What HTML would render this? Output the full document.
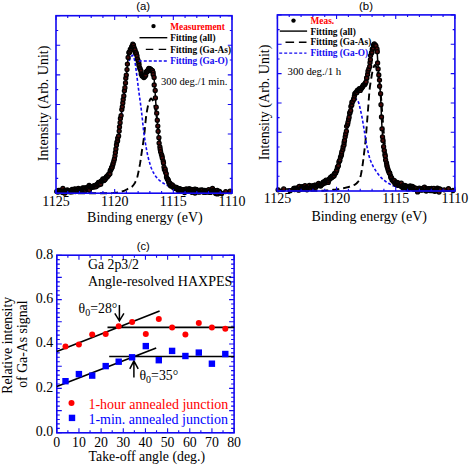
<!DOCTYPE html>
<html><head><meta charset="utf-8"><style>
html,body{margin:0;padding:0;background:#fff;}
svg{display:block;}
</style></head><body>
<svg width="471" height="465" viewBox="0 0 471 465">
<rect width="471" height="465" fill="#fff"/>
<path d="M56.0 193.2 L56.5 193.2 L57.0 193.2 L57.5 193.2 L58.0 193.2 L58.5 193.2 L59.0 193.2 L59.5 193.2 L60.0 193.2 L60.5 193.2 L61.0 193.2 L61.5 193.2 L62.0 193.2 L62.5 193.2 L63.0 193.2 L63.5 193.2 L64.0 193.2 L64.5 193.2 L65.0 193.2 L65.5 193.2 L66.0 193.2 L66.5 193.2 L67.0 193.2 L67.5 193.2 L68.0 193.2 L68.5 193.2 L69.0 193.2 L69.5 193.2 L70.0 193.2 L70.5 193.2 L71.0 193.2 L71.5 193.2 L72.0 193.2 L72.5 193.2 L73.0 193.2 L73.5 193.2 L74.0 193.2 L74.5 193.2 L75.0 193.2 L75.5 193.2 L76.0 193.2 L76.5 193.2 L77.0 193.2 L77.5 193.2 L78.0 193.2 L78.5 193.2 L79.0 193.2 L79.5 193.2 L80.0 193.2 L80.5 193.2 L81.0 193.2 L81.5 193.2 L82.0 193.2 L82.5 193.2 L83.0 193.2 L83.5 193.2 L84.0 193.2 L84.5 193.2 L85.0 193.2 L85.5 193.2 L86.0 193.2 L86.5 193.2 L87.0 193.2 L87.5 193.2 L88.0 193.2 L88.5 193.2 L89.0 193.2 L89.5 193.2 L90.0 193.2 L90.5 193.2 L91.0 193.2 L91.5 193.2 L92.0 193.2 L92.5 193.2 L93.0 193.2 L93.5 193.2 L94.0 193.2 L94.5 193.2 L95.0 193.2 L95.5 193.2 L96.0 193.2 L96.5 193.2 L97.0 193.2 L97.5 193.2 L98.0 193.2 L98.5 193.2 L99.0 193.2 L99.5 193.2 L100.0 193.2 L100.5 193.2 L101.0 193.2 L101.5 193.2 L102.0 193.2 L102.5 193.2 L103.0 193.2 L103.5 193.2 L104.0 193.2 L104.5 193.2 L105.0 193.2 L105.5 193.2 L106.0 193.2 L106.5 193.2 L107.0 193.2 L107.5 193.2 L108.0 193.2 L108.5 193.2 L109.0 193.2 L109.5 193.2 L110.0 193.2 L110.5 193.2 L111.0 193.2 L111.5 193.2 L112.0 193.1 L112.5 193.1 L113.0 193.1 L113.5 193.0 L114.0 193.0 L114.5 192.9 L115.0 192.9 L115.5 192.8 L116.0 192.7 L116.5 192.7 L117.0 192.6 L117.5 192.5 L118.0 192.4 L118.5 192.4 L119.0 192.3 L119.5 192.2 L120.0 192.1 L120.5 192.0 L121.0 191.9 L121.5 191.7 L122.0 191.5 L122.5 191.4 L123.0 191.2 L123.5 191.0 L124.0 190.8 L124.5 190.6 L125.0 190.4 L125.5 190.1 L126.0 189.9 L126.5 189.6 L127.0 189.4 L127.5 189.1 L128.0 188.8 L128.5 188.6 L129.0 188.4 L129.5 188.2 L130.0 188.0 L130.5 187.7 L131.0 187.5 L131.5 187.1 L132.0 186.7 L132.5 186.2 L133.0 185.7 L133.5 185.0 L134.0 184.3 L134.5 183.5 L135.0 182.7 L135.5 181.7 L136.0 180.7 L136.5 179.5 L137.0 178.0 L137.5 176.2 L138.0 174.1 L138.5 171.7 L139.0 169.2 L139.5 166.6 L140.0 163.9 L140.5 160.8 L141.0 157.3 L141.5 153.8 L142.0 150.3 L142.5 147.1 L143.0 144.0 L143.5 140.6 L144.0 137.0 L144.5 132.6 L145.0 127.5 L145.5 122.2 L146.0 117.4 L146.5 113.7 L147.0 110.8 L147.5 108.1 L148.0 105.7 L148.5 103.6 L149.0 102.0 L149.5 100.8 L150.0 99.8 L150.5 99.0 L151.0 98.6 L151.5 98.7 L152.0 99.3 L152.5 100.0 L153.0 100.9 L153.5 102.2 L154.0 103.9 L154.5 105.9 L155.0 108.0 L155.5 110.3 L156.0 112.9 L156.5 115.7 L157.0 118.8 L157.5 122.0 L158.0 125.5 L158.5 129.5 L159.0 133.6 L159.5 137.7 L160.0 141.5 L160.5 145.3 L161.0 149.1 L161.5 152.6 L162.0 155.9 L162.5 159.0 L163.0 162.0 L163.5 165.0 L164.0 168.5 L164.5 172.3 L165.0 175.7 L165.5 178.0 L166.0 179.5 L166.5 180.8 L167.0 181.9 L167.5 183.0 L168.0 183.9 L168.5 184.7 L169.0 185.4 L169.5 186.0 L170.0 186.5 L170.5 187.0 L171.0 187.4 L171.5 187.8 L172.0 188.1 L172.5 188.4 L173.0 188.7 L173.5 189.0 L174.0 189.3 L174.5 189.5 L175.0 189.7 L175.5 189.9 L176.0 190.1 L176.5 190.3 L177.0 190.5 L177.5 190.7 L178.0 190.9 L178.5 191.1 L179.0 191.3 L179.5 191.4 L180.0 191.6 L180.5 191.8 L181.0 192.0 L181.5 192.1 L182.0 192.2 L182.5 192.4 L183.0 192.5 L183.5 192.6 L184.0 192.7 L184.5 192.7 L185.0 192.8 L185.5 192.8 L186.0 192.8 L186.5 192.8 L187.0 192.8 L187.5 192.8 L188.0 192.9 L188.5 192.9 L189.0 192.9 L189.5 192.9 L190.0 192.9 L190.5 192.9 L191.0 192.9 L191.5 192.9 L192.0 192.9 L192.5 192.9 L193.0 192.9 L193.5 192.9 L194.0 193.0 L194.5 193.0 L195.0 193.0 L195.5 193.0 L196.0 193.0 L196.5 193.0 L197.0 193.0 L197.5 193.0 L198.0 193.0 L198.5 193.0 L199.0 193.0 L199.5 193.0 L200.0 193.0 L200.5 193.0 L201.0 193.0 L201.5 193.1 L202.0 193.1 L202.5 193.1 L203.0 193.1 L203.5 193.1 L204.0 193.1 L204.5 193.1 L205.0 193.1 L205.5 193.1 L206.0 193.1 L206.5 193.1 L207.0 193.1 L207.5 193.1 L208.0 193.1 L208.5 193.1 L209.0 193.1 L209.5 193.1 L210.0 193.1 L210.5 193.1 L211.0 193.1 L211.5 193.1 L212.0 193.1 L212.5 193.1 L213.0 193.2 L213.5 193.2 L214.0 193.2 L214.5 193.2 L215.0 193.2 L215.5 193.2 L216.0 193.2 L216.5 193.2 L217.0 193.2 L217.5 193.2 L218.0 193.2 L218.5 193.2 L219.0 193.2 L219.5 193.2 L220.0 193.2 L220.5 193.2 L221.0 193.2 L221.5 193.2 L222.0 193.2 L222.5 193.2 L223.0 193.2 L223.5 193.2 L224.0 193.2 L224.5 193.2 L225.0 193.2 L225.5 193.2 L226.0 193.2 L226.5 193.2 L227.0 193.2 L227.5 193.2 L228.0 193.2 L228.5 193.2 L229.0 193.2 L229.5 193.2 L230.0 193.2 L230.5 193.2 L231.0 193.2 L231.5 193.2 L232.0 193.2" fill="none" stroke="#000" stroke-width="1.9" stroke-dasharray="7 4"/>
<path d="M56.0 191.6 L56.5 191.6 L57.0 191.6 L57.5 191.6 L58.0 191.6 L58.5 191.6 L59.0 191.6 L59.5 191.6 L60.0 191.6 L60.5 191.6 L61.0 191.6 L61.5 191.6 L62.0 191.6 L62.5 191.6 L63.0 191.5 L63.5 191.5 L64.0 191.5 L64.5 191.5 L65.0 191.5 L65.5 191.5 L66.0 191.5 L66.5 191.5 L67.0 191.5 L67.5 191.5 L68.0 191.4 L68.5 191.4 L69.0 191.4 L69.5 191.4 L70.0 191.4 L70.5 191.4 L71.0 191.4 L71.5 191.3 L72.0 191.3 L72.5 191.3 L73.0 191.3 L73.5 191.3 L74.0 191.3 L74.5 191.2 L75.0 191.2 L75.5 191.2 L76.0 191.2 L76.5 191.2 L77.0 191.1 L77.5 191.1 L78.0 191.1 L78.5 191.1 L79.0 191.0 L79.5 191.0 L80.0 191.0 L80.5 191.0 L81.0 190.9 L81.5 190.9 L82.0 190.9 L82.5 190.8 L83.0 190.7 L83.5 190.7 L84.0 190.6 L84.5 190.5 L85.0 190.5 L85.5 190.4 L86.0 190.3 L86.5 190.2 L87.0 190.1 L87.5 190.0 L88.0 189.8 L88.5 189.7 L89.0 189.6 L89.5 189.5 L90.0 189.3 L90.5 189.2 L91.0 189.0 L91.5 188.9 L92.0 188.7 L92.5 188.5 L93.0 188.4 L93.5 188.2 L94.0 188.0 L94.5 187.8 L95.0 187.6 L95.5 187.4 L96.0 187.2 L96.5 187.0 L97.0 186.8 L97.5 186.5 L98.0 186.2 L98.5 185.8 L99.0 185.3 L99.5 184.8 L100.0 184.3 L100.5 183.8 L101.0 183.2 L101.5 182.7 L102.0 182.3 L102.5 181.9 L103.0 181.5 L103.5 181.2 L104.0 180.9 L104.5 180.5 L105.0 180.2 L105.5 179.8 L106.0 179.4 L106.5 178.9 L107.0 178.4 L107.5 177.8 L108.0 177.0 L108.5 176.0 L109.0 175.0 L109.5 174.1 L110.0 173.2 L110.5 172.3 L111.0 171.3 L111.5 170.2 L112.0 169.0 L112.5 167.7 L113.0 166.2 L113.5 164.5 L114.0 162.5 L114.5 160.0 L115.0 157.0 L115.5 153.8 L116.0 150.6 L116.5 147.4 L117.0 144.8 L117.5 142.6 L118.0 140.5 L118.5 138.1 L119.0 135.0 L119.5 130.8 L120.0 126.2 L120.5 121.8 L121.0 118.0 L121.5 114.4 L122.0 110.8 L122.5 107.2 L123.0 103.5 L123.5 99.6 L124.0 95.8 L124.5 92.0 L125.0 88.3 L125.5 84.7 L126.0 81.1 L126.5 77.5 L127.0 73.4 L127.5 69.2 L128.0 65.5 L128.5 63.2 L129.0 61.5 L129.5 60.1 L130.0 59.0 L130.5 58.0 L131.0 57.1 L131.5 56.2 L132.0 55.6 L132.5 55.3 L133.0 55.7 L133.5 56.6 L134.0 58.0 L134.5 59.7 L135.0 61.8 L135.5 65.1 L136.0 69.1 L136.5 73.2 L137.0 77.0 L137.5 80.9 L138.0 85.0 L138.5 88.9 L139.0 92.8 L139.5 96.4 L140.0 100.0 L140.5 103.6 L141.0 107.4 L141.5 111.5 L142.0 115.9 L142.5 120.6 L143.0 125.3 L143.5 129.8 L144.0 133.7 L144.5 137.3 L145.0 140.6 L145.5 143.6 L146.0 146.5 L146.5 149.3 L147.0 152.0 L147.5 154.5 L148.0 156.7 L148.5 158.7 L149.0 160.6 L149.5 162.4 L150.0 164.1 L150.5 165.7 L151.0 167.2 L151.5 168.5 L152.0 169.7 L152.5 170.8 L153.0 171.8 L153.5 172.7 L154.0 173.6 L154.5 174.4 L155.0 175.2 L155.5 176.0 L156.0 176.7 L156.5 177.3 L157.0 177.9 L157.5 178.5 L158.0 179.0 L158.5 179.5 L159.0 180.0 L159.5 180.4 L160.0 180.8 L160.5 181.2 L161.0 181.6 L161.5 182.0 L162.0 182.3 L162.5 182.7 L163.0 183.0 L163.5 183.3 L164.0 183.6 L164.5 183.9 L165.0 184.2 L165.5 184.5 L166.0 184.7 L166.5 185.0 L167.0 185.2 L167.5 185.5 L168.0 185.7 L168.5 185.9 L169.0 186.2 L169.5 186.4 L170.0 186.6 L170.5 186.8 L171.0 187.0 L171.5 187.1 L172.0 187.3 L172.5 187.5 L173.0 187.7 L173.5 187.9 L174.0 188.1 L174.5 188.2 L175.0 188.4 L175.5 188.6 L176.0 188.7 L176.5 188.8 L177.0 189.0 L177.5 189.1 L178.0 189.2 L178.5 189.3 L179.0 189.4 L179.5 189.5 L180.0 189.6 L180.5 189.7 L181.0 189.8 L181.5 189.9 L182.0 190.0 L182.5 190.1 L183.0 190.2 L183.5 190.3 L184.0 190.4 L184.5 190.4 L185.0 190.5 L185.5 190.6 L186.0 190.7 L186.5 190.8 L187.0 190.8 L187.5 190.9 L188.0 191.0 L188.5 191.0 L189.0 191.1 L189.5 191.2 L190.0 191.2 L190.5 191.3 L191.0 191.3 L191.5 191.4 L192.0 191.4 L192.5 191.4 L193.0 191.5 L193.5 191.5 L194.0 191.6 L194.5 191.6 L195.0 191.6 L195.5 191.6 L196.0 191.6 L196.5 191.7 L197.0 191.7 L197.5 191.7 L198.0 191.7 L198.5 191.7 L199.0 191.8 L199.5 191.8 L200.0 191.8 L200.5 191.8 L201.0 191.8 L201.5 191.8 L202.0 191.9 L202.5 191.9 L203.0 191.9 L203.5 191.9 L204.0 191.9 L204.5 191.9 L205.0 192.0 L205.5 192.0 L206.0 192.0 L206.5 192.0 L207.0 192.0 L207.5 192.0 L208.0 192.1 L208.5 192.1 L209.0 192.1 L209.5 192.1 L210.0 192.1 L210.5 192.1 L211.0 192.1 L211.5 192.1 L212.0 192.2 L212.5 192.2 L213.0 192.2 L213.5 192.2 L214.0 192.2 L214.5 192.2 L215.0 192.2 L215.5 192.2 L216.0 192.2 L216.5 192.3 L217.0 192.3 L217.5 192.3 L218.0 192.3 L218.5 192.3 L219.0 192.3 L219.5 192.3 L220.0 192.3 L220.5 192.3 L221.0 192.3 L221.5 192.3 L222.0 192.3 L222.5 192.3 L223.0 192.3 L223.5 192.4 L224.0 192.4 L224.5 192.4 L225.0 192.4 L225.5 192.4 L226.0 192.4 L226.5 192.4 L227.0 192.4 L227.5 192.4 L228.0 192.4 L228.5 192.4 L229.0 192.4 L229.5 192.4 L230.0 192.4 L230.5 192.4 L231.0 192.4 L231.5 192.4 L232.0 192.4" fill="none" stroke="#1208f0" stroke-width="1.6" stroke-dasharray="3 2"/>
<path d="M56.0 191.0 L56.5 191.0 L57.0 191.0 L57.5 191.0 L58.0 191.0 L58.5 191.1 L59.0 191.1 L59.5 191.1 L60.0 191.1 L60.5 191.1 L61.0 191.1 L61.5 191.1 L62.0 191.1 L62.5 191.1 L63.0 191.1 L63.5 191.1 L64.0 191.1 L64.5 191.1 L65.0 191.1 L65.5 191.1 L66.0 191.1 L66.5 191.1 L67.0 191.1 L67.5 191.1 L68.0 191.1 L68.5 191.0 L69.0 191.0 L69.5 191.0 L70.0 190.9 L70.5 190.9 L71.0 190.8 L71.5 190.8 L72.0 190.8 L72.5 190.7 L73.0 190.6 L73.5 190.6 L74.0 190.5 L74.5 190.5 L75.0 190.4 L75.5 190.3 L76.0 190.3 L76.5 190.2 L77.0 190.1 L77.5 190.0 L78.0 190.0 L78.5 189.9 L79.0 189.8 L79.5 189.8 L80.0 189.7 L80.5 189.6 L81.0 189.6 L81.5 189.5 L82.0 189.4 L82.5 189.3 L83.0 189.2 L83.5 189.1 L84.0 189.0 L84.5 188.9 L85.0 188.8 L85.5 188.7 L86.0 188.6 L86.5 188.5 L87.0 188.4 L87.5 188.2 L88.0 188.1 L88.5 188.0 L89.0 187.9 L89.5 187.8 L90.0 187.7 L90.5 187.5 L91.0 187.4 L91.5 187.3 L92.0 187.2 L92.5 187.1 L93.0 186.9 L93.5 186.8 L94.0 186.6 L94.5 186.5 L95.0 186.3 L95.5 186.1 L96.0 185.9 L96.5 185.7 L97.0 185.5 L97.5 185.2 L98.0 184.9 L98.5 184.4 L99.0 183.9 L99.5 183.4 L100.0 182.9 L100.5 182.4 L101.0 181.9 L101.5 181.4 L102.0 181.0 L102.5 180.6 L103.0 180.3 L103.5 180.0 L104.0 179.7 L104.5 179.4 L105.0 179.0 L105.5 178.6 L106.0 178.1 L106.5 177.6 L107.0 177.1 L107.5 176.4 L108.0 175.5 L108.5 174.6 L109.0 173.6 L109.5 172.7 L110.0 171.7 L110.5 170.8 L111.0 169.8 L111.5 168.7 L112.0 167.5 L112.5 166.1 L113.0 164.6 L113.5 162.8 L114.0 160.8 L114.5 158.3 L115.0 155.3 L115.5 152.1 L116.0 148.9 L116.5 145.6 L117.0 142.9 L117.5 140.7 L118.0 138.6 L118.5 136.1 L119.0 132.9 L119.5 128.7 L120.0 124.1 L120.5 119.7 L121.0 115.9 L121.5 112.4 L122.0 108.9 L122.5 105.4 L123.0 101.8 L123.5 98.1 L124.0 94.3 L124.5 90.5 L125.0 86.7 L125.5 83.0 L126.0 79.1 L126.5 75.0 L127.0 69.9 L127.5 64.0 L128.0 58.6 L128.5 54.9 L129.0 53.2 L129.5 51.9 L130.0 50.9 L130.5 50.0 L131.0 49.1 L131.5 48.0 L132.0 46.7 L132.5 45.6 L133.0 45.2 L133.5 46.1 L134.0 47.6 L134.5 49.2 L135.0 50.5 L135.5 51.6 L136.0 52.8 L136.5 54.1 L137.0 55.7 L137.5 57.8 L138.0 60.3 L138.5 62.9 L139.0 65.3 L139.5 67.3 L140.0 69.3 L140.5 71.2 L141.0 73.0 L141.5 74.6 L142.0 75.6 L142.5 76.2 L143.0 76.5 L143.5 76.8 L144.0 76.8 L144.5 76.4 L145.0 75.7 L145.5 74.8 L146.0 73.9 L146.5 73.0 L147.0 72.2 L147.5 71.3 L148.0 70.4 L148.5 69.5 L149.0 68.7 L149.5 68.3 L150.0 68.2 L150.5 68.5 L151.0 69.0 L151.5 69.7 L152.0 70.5 L152.5 71.4 L153.0 72.6 L153.5 74.4 L154.0 77.6 L154.5 83.8 L155.0 90.6 L155.5 98.3 L156.0 105.9 L156.5 112.5 L157.0 118.7 L157.5 124.5 L158.0 130.0 L158.5 135.5 L159.0 140.7 L159.5 144.7 L160.0 147.7 L160.5 150.3 L161.0 152.7 L161.5 154.9 L162.0 157.1 L162.5 159.4 L163.0 161.8 L163.5 164.2 L164.0 166.5 L164.5 168.6 L165.0 170.6 L165.5 172.5 L166.0 174.3 L166.5 176.0 L167.0 177.6 L167.5 178.9 L168.0 180.0 L168.5 180.9 L169.0 181.7 L169.5 182.5 L170.0 183.2 L170.5 183.9 L171.0 184.5 L171.5 185.1 L172.0 185.6 L172.5 186.0 L173.0 186.4 L173.5 186.7 L174.0 186.9 L174.5 187.2 L175.0 187.4 L175.5 187.7 L176.0 187.9 L176.5 188.1 L177.0 188.3 L177.5 188.5 L178.0 188.6 L178.5 188.8 L179.0 189.0 L179.5 189.1 L180.0 189.2 L180.5 189.3 L181.0 189.5 L181.5 189.6 L182.0 189.6 L182.5 189.7 L183.0 189.8 L183.5 189.8 L184.0 189.9 L184.5 190.0 L185.0 190.0 L185.5 190.1 L186.0 190.1 L186.5 190.2 L187.0 190.2 L187.5 190.3 L188.0 190.3 L188.5 190.3 L189.0 190.4 L189.5 190.4 L190.0 190.5 L190.5 190.5 L191.0 190.5 L191.5 190.6 L192.0 190.6 L192.5 190.6 L193.0 190.7 L193.5 190.7 L194.0 190.7 L194.5 190.8 L195.0 190.8 L195.5 190.8 L196.0 190.8 L196.5 190.9 L197.0 190.9 L197.5 190.9 L198.0 190.9 L198.5 191.0 L199.0 191.0 L199.5 191.0 L200.0 191.0 L200.5 191.0 L201.0 191.1 L201.5 191.1 L202.0 191.1 L202.5 191.1 L203.0 191.2 L203.5 191.2 L204.0 191.2 L204.5 191.2 L205.0 191.2 L205.5 191.3 L206.0 191.3 L206.5 191.3 L207.0 191.3 L207.5 191.3 L208.0 191.4 L208.5 191.4 L209.0 191.4 L209.5 191.4 L210.0 191.4 L210.5 191.5 L211.0 191.5 L211.5 191.5 L212.0 191.5 L212.5 191.5 L213.0 191.5 L213.5 191.6 L214.0 191.6 L214.5 191.6 L215.0 191.6 L215.5 191.6 L216.0 191.6 L216.5 191.7 L217.0 191.7 L217.5 191.7 L218.0 191.7 L218.5 191.7 L219.0 191.7 L219.5 191.8 L220.0 191.8 L220.5 191.8 L221.0 191.8 L221.5 191.8 L222.0 191.8 L222.5 191.8 L223.0 191.9 L223.5 191.9 L224.0 191.9 L224.5 191.9 L225.0 191.9 L225.5 191.9 L226.0 191.9 L226.5 191.9 L227.0 191.9 L227.5 191.9 L228.0 192.0 L228.5 192.0 L229.0 192.0 L229.5 192.0 L230.0 192.0 L230.5 192.0 L231.0 192.0 L231.5 192.0 L232.0 192.0" fill="none" stroke="#000" stroke-width="1.5"/>
<g fill="#4a0a0a" stroke="#000" stroke-width="1.3"><circle cx="56.9" cy="191.4" r="2.0"/><circle cx="57.1" cy="191.4" r="2.0"/><circle cx="57.9" cy="192.0" r="2.0"/><circle cx="58.5" cy="190.5" r="2.0"/><circle cx="59.0" cy="191.4" r="2.0"/><circle cx="59.5" cy="191.1" r="2.0"/><circle cx="59.9" cy="190.3" r="2.0"/><circle cx="60.6" cy="190.6" r="2.0"/><circle cx="61.0" cy="191.1" r="2.0"/><circle cx="61.5" cy="190.3" r="2.0"/><circle cx="62.0" cy="191.1" r="2.0"/><circle cx="62.8" cy="192.4" r="2.0"/><circle cx="62.9" cy="188.4" r="2.0"/><circle cx="63.6" cy="190.9" r="2.0"/><circle cx="64.2" cy="191.3" r="2.0"/><circle cx="64.6" cy="193.2" r="2.0"/><circle cx="65.6" cy="190.7" r="2.0"/><circle cx="65.9" cy="191.7" r="2.0"/><circle cx="66.1" cy="190.6" r="2.0"/><circle cx="66.8" cy="191.3" r="2.0"/><circle cx="67.3" cy="189.9" r="2.0"/><circle cx="67.7" cy="191.0" r="2.0"/><circle cx="68.4" cy="190.9" r="2.0"/><circle cx="68.9" cy="191.0" r="2.0"/><circle cx="69.6" cy="191.6" r="2.0"/><circle cx="69.9" cy="191.3" r="2.0"/><circle cx="70.5" cy="191.6" r="2.0"/><circle cx="70.9" cy="191.7" r="2.0"/><circle cx="71.6" cy="191.7" r="2.0"/><circle cx="72.1" cy="189.5" r="2.0"/><circle cx="72.7" cy="190.7" r="2.0"/><circle cx="73.0" cy="189.6" r="2.0"/><circle cx="73.6" cy="190.8" r="2.0"/><circle cx="74.3" cy="190.7" r="2.0"/><circle cx="74.8" cy="188.8" r="2.0"/><circle cx="75.2" cy="191.6" r="2.0"/><circle cx="75.9" cy="189.5" r="2.0"/><circle cx="76.5" cy="190.5" r="2.0"/><circle cx="76.6" cy="189.8" r="2.0"/><circle cx="77.3" cy="190.0" r="2.0"/><circle cx="77.9" cy="190.8" r="2.0"/><circle cx="78.3" cy="188.3" r="2.0"/><circle cx="79.1" cy="190.7" r="2.0"/><circle cx="79.5" cy="189.1" r="2.0"/><circle cx="80.1" cy="190.1" r="2.0"/><circle cx="80.6" cy="190.5" r="2.0"/><circle cx="81.0" cy="189.4" r="2.0"/><circle cx="81.3" cy="190.5" r="2.0"/><circle cx="82.1" cy="189.2" r="2.0"/><circle cx="82.7" cy="187.8" r="2.0"/><circle cx="83.3" cy="188.5" r="2.0"/><circle cx="83.8" cy="188.9" r="2.0"/><circle cx="84.3" cy="190.2" r="2.0"/><circle cx="84.6" cy="188.0" r="2.0"/><circle cx="85.3" cy="190.5" r="2.0"/><circle cx="85.9" cy="187.9" r="2.0"/><circle cx="86.5" cy="188.3" r="2.0"/><circle cx="86.9" cy="188.4" r="2.0"/><circle cx="87.5" cy="187.5" r="2.0"/><circle cx="88.1" cy="187.1" r="2.0"/><circle cx="88.3" cy="189.5" r="2.0"/><circle cx="89.1" cy="185.4" r="2.0"/><circle cx="89.4" cy="190.3" r="2.0"/><circle cx="90.2" cy="186.4" r="2.0"/><circle cx="90.5" cy="186.7" r="2.0"/><circle cx="91.2" cy="187.0" r="2.0"/><circle cx="91.7" cy="186.9" r="2.0"/><circle cx="92.0" cy="187.0" r="2.0"/><circle cx="92.6" cy="186.7" r="2.0"/><circle cx="93.1" cy="186.9" r="2.0"/><circle cx="94.0" cy="185.6" r="2.0"/><circle cx="94.3" cy="186.5" r="2.0"/><circle cx="94.8" cy="186.9" r="2.0"/><circle cx="95.4" cy="186.0" r="2.0"/><circle cx="95.7" cy="186.3" r="2.0"/><circle cx="96.3" cy="186.6" r="2.0"/><circle cx="96.8" cy="184.5" r="2.0"/><circle cx="97.7" cy="184.9" r="2.0"/><circle cx="98.0" cy="183.7" r="2.0"/><circle cx="98.5" cy="182.3" r="2.0"/><circle cx="99.0" cy="184.8" r="2.0"/><circle cx="99.6" cy="182.7" r="2.0"/><circle cx="100.2" cy="183.5" r="2.0"/><circle cx="100.7" cy="184.2" r="2.0"/><circle cx="101.1" cy="181.1" r="2.0"/><circle cx="101.7" cy="181.2" r="2.0"/><circle cx="102.2" cy="180.8" r="2.0"/><circle cx="102.9" cy="178.8" r="2.0"/><circle cx="103.1" cy="179.6" r="2.0"/><circle cx="104.0" cy="180.5" r="2.0"/><circle cx="104.3" cy="180.0" r="2.0"/><circle cx="105.3" cy="178.5" r="2.0"/><circle cx="105.2" cy="179.3" r="2.0"/><circle cx="105.9" cy="177.7" r="2.0"/><circle cx="106.5" cy="176.6" r="2.0"/><circle cx="107.1" cy="176.8" r="2.0"/><circle cx="107.1" cy="177.1" r="2.0"/><circle cx="107.8" cy="175.5" r="2.0"/><circle cx="108.6" cy="175.3" r="2.0"/><circle cx="108.9" cy="173.8" r="2.0"/><circle cx="109.9" cy="173.8" r="2.0"/><circle cx="110.2" cy="170.8" r="2.0"/><circle cx="110.7" cy="170.0" r="2.0"/><circle cx="111.5" cy="168.5" r="2.0"/><circle cx="111.7" cy="167.5" r="2.0"/><circle cx="112.1" cy="167.2" r="2.0"/><circle cx="112.7" cy="165.1" r="2.0"/><circle cx="113.1" cy="163.4" r="2.0"/><circle cx="113.8" cy="161.2" r="2.0"/><circle cx="114.4" cy="158.9" r="2.0"/><circle cx="115.0" cy="155.8" r="2.0"/><circle cx="115.4" cy="152.5" r="2.0"/><circle cx="115.9" cy="148.9" r="2.0"/><circle cx="116.5" cy="144.9" r="2.0"/><circle cx="116.9" cy="142.1" r="2.0"/><circle cx="117.6" cy="140.8" r="2.0"/><circle cx="117.7" cy="138.1" r="2.0"/><circle cx="118.6" cy="136.0" r="2.0"/><circle cx="119.2" cy="131.1" r="2.0"/><circle cx="119.5" cy="127.0" r="2.0"/><circle cx="120.1" cy="122.7" r="2.0"/><circle cx="120.4" cy="118.4" r="2.0"/><circle cx="121.1" cy="115.6" r="2.0"/><circle cx="121.8" cy="109.6" r="2.0"/><circle cx="122.3" cy="106.8" r="2.0"/><circle cx="122.8" cy="103.0" r="2.0"/><circle cx="123.2" cy="99.5" r="2.0"/><circle cx="123.8" cy="95.9" r="2.0"/><circle cx="124.4" cy="90.8" r="2.0"/><circle cx="124.9" cy="87.7" r="2.0"/><circle cx="125.5" cy="82.9" r="2.0"/><circle cx="125.8" cy="78.2" r="2.0"/><circle cx="126.3" cy="75.1" r="2.0"/><circle cx="127.0" cy="69.6" r="2.0"/><circle cx="127.4" cy="64.1" r="2.0"/><circle cx="128.1" cy="57.5" r="2.0"/><circle cx="129.1" cy="52.8" r="2.0"/><circle cx="129.0" cy="52.3" r="2.0"/><circle cx="129.7" cy="52.1" r="2.0"/><circle cx="130.3" cy="49.3" r="2.0"/><circle cx="130.7" cy="50.2" r="2.0"/><circle cx="131.3" cy="48.4" r="2.0"/><circle cx="131.8" cy="46.7" r="2.0"/><circle cx="132.2" cy="46.1" r="2.0"/><circle cx="132.8" cy="44.2" r="2.0"/><circle cx="133.5" cy="45.1" r="2.0"/><circle cx="134.0" cy="47.4" r="2.0"/><circle cx="134.5" cy="49.1" r="2.0"/><circle cx="135.0" cy="49.8" r="2.0"/><circle cx="135.4" cy="52.8" r="2.0"/><circle cx="136.0" cy="52.4" r="2.0"/><circle cx="136.4" cy="53.8" r="2.0"/><circle cx="137.0" cy="56.0" r="2.0"/><circle cx="137.6" cy="59.2" r="2.0"/><circle cx="138.3" cy="61.1" r="2.0"/><circle cx="138.9" cy="63.4" r="2.0"/><circle cx="139.0" cy="65.5" r="2.0"/><circle cx="139.7" cy="67.8" r="2.0"/><circle cx="140.2" cy="69.2" r="2.0"/><circle cx="141.0" cy="71.0" r="2.0"/><circle cx="141.2" cy="73.9" r="2.0"/><circle cx="141.8" cy="74.6" r="2.0"/><circle cx="142.2" cy="75.9" r="2.0"/><circle cx="142.8" cy="75.8" r="2.0"/><circle cx="143.5" cy="76.4" r="2.0"/><circle cx="143.9" cy="77.6" r="2.0"/><circle cx="144.2" cy="76.8" r="2.0"/><circle cx="145.0" cy="76.2" r="2.0"/><circle cx="145.7" cy="75.2" r="2.0"/><circle cx="146.1" cy="72.2" r="2.0"/><circle cx="146.6" cy="72.1" r="2.0"/><circle cx="147.0" cy="71.1" r="2.0"/><circle cx="147.7" cy="71.2" r="2.0"/><circle cx="148.0" cy="70.1" r="2.0"/><circle cx="148.8" cy="68.8" r="2.0"/><circle cx="148.9" cy="68.5" r="2.0"/><circle cx="149.8" cy="68.8" r="2.0"/><circle cx="150.2" cy="69.0" r="2.0"/><circle cx="150.6" cy="69.4" r="2.0"/><circle cx="151.2" cy="69.9" r="2.0"/><circle cx="152.0" cy="70.7" r="2.0"/><circle cx="152.4" cy="70.6" r="2.0"/><circle cx="153.1" cy="72.4" r="2.0"/><circle cx="153.2" cy="74.6" r="2.0"/><circle cx="154.1" cy="77.4" r="2.0"/><circle cx="154.2" cy="85.0" r="2.0"/><circle cx="155.2" cy="90.4" r="2.0"/><circle cx="155.4" cy="97.9" r="2.0"/><circle cx="156.2" cy="107.2" r="2.0"/><circle cx="156.7" cy="113.2" r="2.0"/><circle cx="157.3" cy="120.2" r="2.0"/><circle cx="157.8" cy="126.1" r="2.0"/><circle cx="158.1" cy="131.3" r="2.0"/><circle cx="158.9" cy="137.7" r="2.0"/><circle cx="159.1" cy="143.1" r="2.0"/><circle cx="159.9" cy="146.8" r="2.0"/><circle cx="160.2" cy="149.2" r="2.0"/><circle cx="160.6" cy="151.7" r="2.0"/><circle cx="161.4" cy="154.3" r="2.0"/><circle cx="162.0" cy="155.9" r="2.0"/><circle cx="162.3" cy="158.0" r="2.0"/><circle cx="163.2" cy="161.1" r="2.0"/><circle cx="163.5" cy="162.9" r="2.0"/><circle cx="164.0" cy="167.1" r="2.0"/><circle cx="164.4" cy="169.5" r="2.0"/><circle cx="165.2" cy="169.2" r="2.0"/><circle cx="165.5" cy="171.9" r="2.0"/><circle cx="166.3" cy="173.8" r="2.0"/><circle cx="166.5" cy="177.1" r="2.0"/><circle cx="167.2" cy="178.7" r="2.0"/><circle cx="167.7" cy="179.2" r="2.0"/><circle cx="168.3" cy="180.2" r="2.0"/><circle cx="168.7" cy="181.6" r="2.0"/><circle cx="169.2" cy="183.2" r="2.0"/><circle cx="169.9" cy="183.2" r="2.0"/><circle cx="170.2" cy="185.2" r="2.0"/><circle cx="170.9" cy="186.1" r="2.0"/><circle cx="171.3" cy="184.8" r="2.0"/><circle cx="171.9" cy="186.1" r="2.0"/><circle cx="172.3" cy="184.8" r="2.0"/><circle cx="172.9" cy="185.8" r="2.0"/><circle cx="173.7" cy="187.7" r="2.0"/><circle cx="174.1" cy="187.8" r="2.0"/><circle cx="174.6" cy="186.8" r="2.0"/><circle cx="175.4" cy="188.3" r="2.0"/><circle cx="175.6" cy="188.6" r="2.0"/><circle cx="176.1" cy="188.0" r="2.0"/><circle cx="176.6" cy="187.4" r="2.0"/><circle cx="177.5" cy="188.5" r="2.0"/><circle cx="177.9" cy="188.6" r="2.0"/><circle cx="178.3" cy="190.5" r="2.0"/><circle cx="178.9" cy="190.5" r="2.0"/><circle cx="179.3" cy="188.6" r="2.0"/><circle cx="179.8" cy="189.2" r="2.0"/><circle cx="180.4" cy="189.1" r="2.0"/><circle cx="180.7" cy="189.9" r="2.0"/><circle cx="181.2" cy="189.5" r="2.0"/><circle cx="182.0" cy="189.9" r="2.0"/><circle cx="182.5" cy="189.9" r="2.0"/><circle cx="182.9" cy="190.4" r="2.0"/><circle cx="183.6" cy="189.6" r="2.0"/><circle cx="184.1" cy="190.9" r="2.0"/><circle cx="184.6" cy="192.5" r="2.0"/><circle cx="185.3" cy="191.0" r="2.0"/><circle cx="185.5" cy="189.9" r="2.0"/><circle cx="186.2" cy="189.0" r="2.0"/><circle cx="186.7" cy="191.3" r="2.0"/><circle cx="187.2" cy="190.4" r="2.0"/><circle cx="187.4" cy="190.8" r="2.0"/><circle cx="188.3" cy="190.6" r="2.0"/><circle cx="189.1" cy="189.0" r="2.0"/><circle cx="189.2" cy="189.0" r="2.0"/><circle cx="190.0" cy="189.3" r="2.0"/><circle cx="190.5" cy="189.6" r="2.0"/><circle cx="191.0" cy="191.1" r="2.0"/><circle cx="191.3" cy="189.3" r="2.0"/><circle cx="191.8" cy="192.3" r="2.0"/><circle cx="192.5" cy="189.8" r="2.0"/><circle cx="193.1" cy="191.5" r="2.0"/><circle cx="193.4" cy="191.4" r="2.0"/><circle cx="194.2" cy="191.7" r="2.0"/><circle cx="194.8" cy="189.2" r="2.0"/><circle cx="195.0" cy="193.1" r="2.0"/><circle cx="195.9" cy="190.9" r="2.0"/><circle cx="195.9" cy="189.4" r="2.0"/><circle cx="196.6" cy="189.6" r="2.0"/><circle cx="197.3" cy="190.3" r="2.0"/><circle cx="197.6" cy="191.2" r="2.0"/><circle cx="198.6" cy="191.5" r="2.0"/><circle cx="199.0" cy="192.2" r="2.0"/><circle cx="199.5" cy="191.0" r="2.0"/><circle cx="200.0" cy="190.1" r="2.0"/><circle cx="200.6" cy="191.0" r="2.0"/><circle cx="200.8" cy="191.5" r="2.0"/><circle cx="201.7" cy="191.2" r="2.0"/><circle cx="201.9" cy="190.0" r="2.0"/><circle cx="202.3" cy="190.4" r="2.0"/><circle cx="203.3" cy="192.1" r="2.0"/><circle cx="203.6" cy="192.0" r="2.0"/><circle cx="204.1" cy="191.1" r="2.0"/><circle cx="204.8" cy="190.5" r="2.0"/><circle cx="205.3" cy="192.3" r="2.0"/><circle cx="205.7" cy="190.7" r="2.0"/><circle cx="206.5" cy="191.1" r="2.0"/><circle cx="206.5" cy="191.5" r="2.0"/><circle cx="207.6" cy="191.7" r="2.0"/><circle cx="207.9" cy="192.0" r="2.0"/><circle cx="208.0" cy="191.4" r="2.0"/><circle cx="208.7" cy="189.6" r="2.0"/><circle cx="209.4" cy="191.3" r="2.0"/><circle cx="209.9" cy="192.1" r="2.0"/><circle cx="210.4" cy="192.4" r="2.0"/><circle cx="211.1" cy="190.8" r="2.0"/><circle cx="211.1" cy="190.6" r="2.0"/><circle cx="212.0" cy="190.4" r="2.0"/><circle cx="212.5" cy="188.4" r="2.0"/><circle cx="212.9" cy="191.2" r="2.0"/><circle cx="213.5" cy="190.1" r="2.0"/><circle cx="214.3" cy="191.0" r="2.0"/><circle cx="214.4" cy="192.0" r="2.0"/><circle cx="215.3" cy="190.8" r="2.0"/><circle cx="215.8" cy="193.5" r="2.0"/><circle cx="216.5" cy="192.0" r="2.0"/><circle cx="216.7" cy="191.7" r="2.0"/><circle cx="217.2" cy="190.3" r="2.0"/><circle cx="217.6" cy="193.9" r="2.0"/><circle cx="218.2" cy="191.7" r="2.0"/><circle cx="219.0" cy="191.9" r="2.0"/><circle cx="219.5" cy="191.5" r="2.0"/><circle cx="220.0" cy="192.5" r="2.0"/><circle cx="221.7" cy="193.5" r="2.0"/><circle cx="225.7" cy="191.6" r="2.0"/><circle cx="230.1" cy="191.1" r="2.0"/></g>
<rect x="56.0" y="15.7" width="176.00" height="177.50" fill="none" stroke="#1208f0" stroke-width="1.6"/>
<path d="M56.00 15.7 v4.2M56.00 193.2 v-4.2M67.73 15.7 v2.2M67.73 193.2 v-2.2M79.47 15.7 v2.2M79.47 193.2 v-2.2M91.20 15.7 v2.2M91.20 193.2 v-2.2M102.93 15.7 v2.2M102.93 193.2 v-2.2M114.67 15.7 v4.2M114.67 193.2 v-4.2M126.40 15.7 v2.2M126.40 193.2 v-2.2M138.13 15.7 v2.2M138.13 193.2 v-2.2M149.87 15.7 v2.2M149.87 193.2 v-2.2M161.60 15.7 v2.2M161.60 193.2 v-2.2M173.33 15.7 v4.2M173.33 193.2 v-4.2M185.07 15.7 v2.2M185.07 193.2 v-2.2M196.80 15.7 v2.2M196.80 193.2 v-2.2M208.53 15.7 v2.2M208.53 193.2 v-2.2M220.27 15.7 v2.2M220.27 193.2 v-2.2M232.00 15.7 v4.2M232.00 193.2 v-4.2M56.0 193.20 h4.2M232.0 193.20 h-4.2M56.0 178.41 h2.2M232.0 178.41 h-2.2M56.0 163.62 h4.2M232.0 163.62 h-4.2M56.0 148.82 h2.2M232.0 148.82 h-2.2M56.0 134.03 h4.2M232.0 134.03 h-4.2M56.0 119.24 h2.2M232.0 119.24 h-2.2M56.0 104.45 h4.2M232.0 104.45 h-4.2M56.0 89.66 h2.2M232.0 89.66 h-2.2M56.0 74.87 h4.2M232.0 74.87 h-4.2M56.0 60.07 h2.2M232.0 60.07 h-2.2M56.0 45.28 h4.2M232.0 45.28 h-4.2M56.0 30.49 h2.2M232.0 30.49 h-2.2M56.0 15.70 h4.2M232.0 15.70 h-4.2" stroke="#1208f0" stroke-width="1.1" fill="none"/>
<path d="M277.4 191.0 L277.9 191.0 L278.4 191.0 L278.9 191.0 L279.4 191.0 L279.9 191.0 L280.4 191.0 L280.9 191.0 L281.4 191.0 L281.9 191.0 L282.4 191.0 L282.9 191.0 L283.4 191.0 L283.9 191.0 L284.4 191.0 L284.9 191.0 L285.4 191.0 L285.9 191.0 L286.4 191.0 L286.9 191.0 L287.4 191.0 L287.9 191.0 L288.4 191.0 L288.9 191.0 L289.4 191.0 L289.9 191.0 L290.4 191.0 L290.9 191.0 L291.4 191.0 L291.9 191.0 L292.4 191.0 L292.9 191.0 L293.4 191.0 L293.9 191.0 L294.4 191.0 L294.9 191.0 L295.4 191.0 L295.9 191.0 L296.4 191.0 L296.9 191.0 L297.4 191.0 L297.9 191.0 L298.4 191.0 L298.9 191.0 L299.4 191.0 L299.9 190.9 L300.4 190.9 L300.9 190.9 L301.4 190.9 L301.9 190.9 L302.4 190.9 L302.9 190.9 L303.4 190.9 L303.9 190.9 L304.4 190.9 L304.9 190.9 L305.4 190.9 L305.9 190.9 L306.4 190.9 L306.9 190.9 L307.4 190.9 L307.9 190.9 L308.4 190.9 L308.9 190.9 L309.4 190.9 L309.9 190.9 L310.4 190.9 L310.9 190.9 L311.4 190.9 L311.9 190.9 L312.4 190.9 L312.9 190.9 L313.4 190.9 L313.9 190.9 L314.4 190.9 L314.9 190.8 L315.4 190.8 L315.9 190.8 L316.4 190.8 L316.9 190.8 L317.4 190.8 L317.9 190.8 L318.4 190.8 L318.9 190.8 L319.4 190.8 L319.9 190.8 L320.4 190.8 L320.9 190.8 L321.4 190.8 L321.9 190.8 L322.4 190.7 L322.9 190.7 L323.4 190.7 L323.9 190.7 L324.4 190.6 L324.9 190.6 L325.4 190.6 L325.9 190.5 L326.4 190.5 L326.9 190.4 L327.4 190.4 L327.9 190.4 L328.4 190.3 L328.9 190.3 L329.4 190.2 L329.9 190.2 L330.4 190.1 L330.9 190.1 L331.4 190.0 L331.9 190.0 L332.4 189.9 L332.9 189.8 L333.4 189.8 L333.9 189.7 L334.4 189.7 L334.9 189.6 L335.4 189.6 L335.9 189.5 L336.4 189.4 L336.9 189.4 L337.4 189.3 L337.9 189.2 L338.4 189.1 L338.9 189.1 L339.4 189.0 L339.9 188.9 L340.4 188.8 L340.9 188.7 L341.4 188.6 L341.9 188.5 L342.4 188.4 L342.9 188.3 L343.4 188.2 L343.9 188.1 L344.4 188.0 L344.9 187.9 L345.4 187.8 L345.9 187.6 L346.4 187.5 L346.9 187.4 L347.4 187.3 L347.9 187.1 L348.4 187.0 L348.9 186.9 L349.4 186.7 L349.9 186.6 L350.4 186.4 L350.9 186.3 L351.4 186.1 L351.9 185.9 L352.4 185.8 L352.9 185.6 L353.4 185.3 L353.9 185.1 L354.4 184.8 L354.9 184.6 L355.4 184.2 L355.9 183.9 L356.4 183.5 L356.9 183.0 L357.4 182.5 L357.9 181.9 L358.4 181.2 L358.9 180.4 L359.4 179.6 L359.9 178.5 L360.4 176.9 L360.9 174.8 L361.4 172.3 L361.9 169.6 L362.4 166.5 L362.9 162.9 L363.4 158.8 L363.9 154.6 L364.4 150.6 L364.9 146.5 L365.4 142.0 L365.9 136.6 L366.4 130.5 L366.9 124.2 L367.4 117.8 L367.9 111.2 L368.4 104.7 L368.9 97.9 L369.4 91.5 L369.9 86.9 L370.4 83.5 L370.9 80.6 L371.4 77.5 L371.9 74.4 L372.4 71.9 L372.9 70.0 L373.4 68.2 L373.9 66.7 L374.4 65.5 L374.9 65.0 L375.4 65.2 L375.9 66.2 L376.4 67.6 L376.9 69.3 L377.4 71.1 L377.9 73.3 L378.4 76.2 L378.9 79.4 L379.4 82.4 L379.9 85.5 L380.4 89.4 L380.9 95.2 L381.4 102.0 L381.9 108.6 L382.4 115.1 L382.9 121.7 L383.4 128.0 L383.9 134.3 L384.4 140.0 L384.9 144.8 L385.4 149.0 L385.9 153.0 L386.4 157.1 L386.9 161.3 L387.4 165.1 L387.9 168.4 L388.4 171.2 L388.9 173.8 L389.4 176.1 L389.9 178.0 L390.4 179.2 L390.9 180.1 L391.4 180.9 L391.9 181.6 L392.4 182.3 L392.9 182.8 L393.4 183.3 L393.9 183.7 L394.4 184.1 L394.9 184.4 L395.4 184.7 L395.9 185.0 L396.4 185.2 L396.9 185.5 L397.4 185.7 L397.9 185.8 L398.4 186.0 L398.9 186.2 L399.4 186.3 L399.9 186.5 L400.4 186.7 L400.9 186.8 L401.4 187.0 L401.9 187.2 L402.4 187.3 L402.9 187.5 L403.4 187.7 L403.9 187.8 L404.4 188.0 L404.9 188.2 L405.4 188.4 L405.9 188.5 L406.4 188.7 L406.9 188.8 L407.4 189.0 L407.9 189.1 L408.4 189.3 L408.9 189.4 L409.4 189.5 L409.9 189.7 L410.4 189.8 L410.9 189.9 L411.4 190.0 L411.9 190.1 L412.4 190.2 L412.9 190.2 L413.4 190.3 L413.9 190.3 L414.4 190.4 L414.9 190.4 L415.4 190.4 L415.9 190.4 L416.4 190.4 L416.9 190.5 L417.4 190.5 L417.9 190.5 L418.4 190.5 L418.9 190.5 L419.4 190.5 L419.9 190.5 L420.4 190.6 L420.9 190.6 L421.4 190.6 L421.9 190.6 L422.4 190.6 L422.9 190.6 L423.4 190.6 L423.9 190.7 L424.4 190.7 L424.9 190.7 L425.4 190.7 L425.9 190.7 L426.4 190.7 L426.9 190.7 L427.4 190.7 L427.9 190.7 L428.4 190.8 L428.9 190.8 L429.4 190.8 L429.9 190.8 L430.4 190.8 L430.9 190.8 L431.4 190.8 L431.9 190.8 L432.4 190.8 L432.9 190.8 L433.4 190.8 L433.9 190.8 L434.4 190.9 L434.9 190.9 L435.4 190.9 L435.9 190.9 L436.4 190.9 L436.9 190.9 L437.4 190.9 L437.9 190.9 L438.4 190.9 L438.9 190.9 L439.4 190.9 L439.9 190.9 L440.4 190.9 L440.9 190.9 L441.4 190.9 L441.9 190.9 L442.4 190.9 L442.9 191.0 L443.4 191.0 L443.9 191.0 L444.4 191.0 L444.9 191.0 L445.4 191.0 L445.9 191.0 L446.4 191.0 L446.9 191.0 L447.4 191.0 L447.9 191.0 L448.4 191.0 L448.9 191.0 L449.4 191.0 L449.9 191.0 L450.4 191.0 L450.9 191.0 L451.4 191.0 L451.9 191.0 L452.4 191.0 L452.9 191.0 L453.4 191.0 L453.9 191.0 L454.4 191.0 L454.9 191.0" fill="none" stroke="#000" stroke-width="1.9" stroke-dasharray="7 4"/>
<path d="M277.4 190.0 L277.9 190.0 L278.4 190.0 L278.9 189.9 L279.4 189.9 L279.9 189.9 L280.4 189.9 L280.9 189.8 L281.4 189.8 L281.9 189.8 L282.4 189.8 L282.9 189.7 L283.4 189.7 L283.9 189.7 L284.4 189.6 L284.9 189.6 L285.4 189.6 L285.9 189.5 L286.4 189.5 L286.9 189.5 L287.4 189.4 L287.9 189.4 L288.4 189.4 L288.9 189.3 L289.4 189.3 L289.9 189.3 L290.4 189.2 L290.9 189.2 L291.4 189.2 L291.9 189.1 L292.4 189.1 L292.9 189.0 L293.4 189.0 L293.9 189.0 L294.4 188.9 L294.9 188.9 L295.4 188.8 L295.9 188.8 L296.4 188.8 L296.9 188.7 L297.4 188.7 L297.9 188.6 L298.4 188.6 L298.9 188.5 L299.4 188.5 L299.9 188.5 L300.4 188.4 L300.9 188.4 L301.4 188.3 L301.9 188.3 L302.4 188.3 L302.9 188.2 L303.4 188.2 L303.9 188.1 L304.4 188.1 L304.9 188.0 L305.4 188.0 L305.9 187.9 L306.4 187.9 L306.9 187.8 L307.4 187.8 L307.9 187.7 L308.4 187.7 L308.9 187.6 L309.4 187.5 L309.9 187.5 L310.4 187.4 L310.9 187.3 L311.4 187.3 L311.9 187.2 L312.4 187.1 L312.9 187.0 L313.4 186.9 L313.9 186.9 L314.4 186.7 L314.9 186.6 L315.4 186.5 L315.9 186.4 L316.4 186.2 L316.9 186.1 L317.4 185.9 L317.9 185.8 L318.4 185.6 L318.9 185.4 L319.4 185.2 L319.9 185.0 L320.4 184.8 L320.9 184.6 L321.4 184.4 L321.9 184.2 L322.4 184.0 L322.9 183.8 L323.4 183.5 L323.9 183.3 L324.4 183.1 L324.9 182.8 L325.4 182.6 L325.9 182.3 L326.4 182.1 L326.9 181.8 L327.4 181.5 L327.9 181.3 L328.4 181.0 L328.9 180.7 L329.4 180.4 L329.9 180.1 L330.4 179.7 L330.9 179.4 L331.4 179.0 L331.9 178.6 L332.4 178.1 L332.9 177.6 L333.4 177.1 L333.9 176.6 L334.4 175.9 L334.9 175.2 L335.4 174.2 L335.9 173.1 L336.4 171.9 L336.9 170.6 L337.4 169.1 L337.9 167.6 L338.4 166.1 L338.9 164.6 L339.4 163.0 L339.9 161.4 L340.4 159.6 L340.9 157.8 L341.4 155.9 L341.9 153.9 L342.4 151.8 L342.9 149.7 L343.4 147.5 L343.9 145.3 L344.4 143.1 L344.9 140.7 L345.4 138.3 L345.9 135.9 L346.4 133.3 L346.9 130.7 L347.4 128.1 L347.9 125.6 L348.4 123.0 L348.9 120.5 L349.4 117.9 L349.9 115.3 L350.4 112.8 L350.9 110.3 L351.4 108.0 L351.9 105.7 L352.4 103.4 L352.9 101.7 L353.4 100.7 L353.9 99.8 L354.4 99.1 L354.9 98.8 L355.4 98.8 L355.9 99.0 L356.4 99.3 L356.9 99.6 L357.4 100.0 L357.9 100.7 L358.4 101.9 L358.9 103.5 L359.4 105.4 L359.9 107.5 L360.4 109.7 L360.9 111.9 L361.4 114.2 L361.9 116.7 L362.4 119.4 L362.9 122.3 L363.4 125.3 L363.9 128.3 L364.4 131.3 L364.9 134.5 L365.4 137.7 L365.9 140.7 L366.4 143.5 L366.9 146.2 L367.4 148.8 L367.9 151.2 L368.4 153.5 L368.9 155.6 L369.4 157.3 L369.9 158.9 L370.4 160.3 L370.9 161.5 L371.4 162.7 L371.9 163.8 L372.4 164.8 L372.9 165.8 L373.4 166.8 L373.9 167.6 L374.4 168.5 L374.9 169.3 L375.4 170.1 L375.9 170.9 L376.4 171.6 L376.9 172.3 L377.4 173.0 L377.9 173.7 L378.4 174.4 L378.9 175.0 L379.4 175.7 L379.9 176.3 L380.4 176.8 L380.9 177.4 L381.4 177.9 L381.9 178.4 L382.4 178.9 L382.9 179.3 L383.4 179.7 L383.9 180.2 L384.4 180.5 L384.9 180.9 L385.4 181.3 L385.9 181.6 L386.4 182.0 L386.9 182.3 L387.4 182.6 L387.9 182.9 L388.4 183.2 L388.9 183.5 L389.4 183.8 L389.9 184.1 L390.4 184.4 L390.9 184.7 L391.4 185.0 L391.9 185.2 L392.4 185.5 L392.9 185.7 L393.4 185.9 L393.9 186.1 L394.4 186.2 L394.9 186.3 L395.4 186.5 L395.9 186.6 L396.4 186.7 L396.9 186.8 L397.4 187.0 L397.9 187.1 L398.4 187.2 L398.9 187.3 L399.4 187.4 L399.9 187.5 L400.4 187.6 L400.9 187.7 L401.4 187.8 L401.9 187.9 L402.4 188.0 L402.9 188.0 L403.4 188.1 L403.9 188.2 L404.4 188.3 L404.9 188.3 L405.4 188.4 L405.9 188.5 L406.4 188.5 L406.9 188.6 L407.4 188.6 L407.9 188.7 L408.4 188.7 L408.9 188.7 L409.4 188.8 L409.9 188.8 L410.4 188.8 L410.9 188.8 L411.4 188.9 L411.9 188.9 L412.4 188.9 L412.9 188.9 L413.4 189.0 L413.9 189.0 L414.4 189.0 L414.9 189.0 L415.4 189.0 L415.9 189.1 L416.4 189.1 L416.9 189.1 L417.4 189.1 L417.9 189.2 L418.4 189.2 L418.9 189.2 L419.4 189.2 L419.9 189.2 L420.4 189.2 L420.9 189.3 L421.4 189.3 L421.9 189.3 L422.4 189.3 L422.9 189.3 L423.4 189.4 L423.9 189.4 L424.4 189.4 L424.9 189.4 L425.4 189.4 L425.9 189.4 L426.4 189.5 L426.9 189.5 L427.4 189.5 L427.9 189.5 L428.4 189.5 L428.9 189.5 L429.4 189.5 L429.9 189.6 L430.4 189.6 L430.9 189.6 L431.4 189.6 L431.9 189.6 L432.4 189.6 L432.9 189.6 L433.4 189.6 L433.9 189.7 L434.4 189.7 L434.9 189.7 L435.4 189.7 L435.9 189.7 L436.4 189.7 L436.9 189.7 L437.4 189.7 L437.9 189.7 L438.4 189.8 L438.9 189.8 L439.4 189.8 L439.9 189.8 L440.4 189.8 L440.9 189.8 L441.4 189.8 L441.9 189.8 L442.4 189.8 L442.9 189.8 L443.4 189.8 L443.9 189.8 L444.4 189.8 L444.9 189.8 L445.4 189.9 L445.9 189.9 L446.4 189.9 L446.9 189.9 L447.4 189.9 L447.9 189.9 L448.4 189.9 L448.9 189.9 L449.4 189.9 L449.9 189.9 L450.4 189.9 L450.9 189.9 L451.4 189.9 L451.9 189.9 L452.4 189.9 L452.9 189.9 L453.4 189.9 L453.9 189.9 L454.4 189.9 L454.9 189.9" fill="none" stroke="#1208f0" stroke-width="1.6" stroke-dasharray="3 2"/>
<path d="M277.4 189.6 L277.9 189.6 L278.4 189.6 L278.9 189.5 L279.4 189.5 L279.9 189.5 L280.4 189.5 L280.9 189.4 L281.4 189.4 L281.9 189.4 L282.4 189.4 L282.9 189.3 L283.4 189.3 L283.9 189.3 L284.4 189.3 L284.9 189.2 L285.4 189.2 L285.9 189.2 L286.4 189.1 L286.9 189.1 L287.4 189.1 L287.9 189.0 L288.4 189.0 L288.9 189.0 L289.4 188.9 L289.9 188.9 L290.4 188.8 L290.9 188.8 L291.4 188.8 L291.9 188.7 L292.4 188.7 L292.9 188.6 L293.4 188.6 L293.9 188.6 L294.4 188.5 L294.9 188.5 L295.4 188.4 L295.9 188.4 L296.4 188.4 L296.9 188.3 L297.4 188.3 L297.9 188.2 L298.4 188.2 L298.9 188.1 L299.4 188.1 L299.9 188.1 L300.4 188.0 L300.9 188.0 L301.4 187.9 L301.9 187.9 L302.4 187.8 L302.9 187.8 L303.4 187.8 L303.9 187.7 L304.4 187.7 L304.9 187.6 L305.4 187.6 L305.9 187.5 L306.4 187.4 L306.9 187.4 L307.4 187.3 L307.9 187.3 L308.4 187.2 L308.9 187.1 L309.4 187.1 L309.9 187.0 L310.4 186.9 L310.9 186.9 L311.4 186.8 L311.9 186.7 L312.4 186.6 L312.9 186.5 L313.4 186.4 L313.9 186.3 L314.4 186.2 L314.9 186.1 L315.4 186.0 L315.9 185.8 L316.4 185.7 L316.9 185.5 L317.4 185.4 L317.9 185.2 L318.4 185.0 L318.9 184.9 L319.4 184.7 L319.9 184.5 L320.4 184.3 L320.9 184.0 L321.4 183.8 L321.9 183.6 L322.4 183.4 L322.9 183.1 L323.4 182.9 L323.9 182.6 L324.4 182.4 L324.9 182.1 L325.4 181.9 L325.9 181.6 L326.4 181.4 L326.9 181.1 L327.4 180.8 L327.9 180.5 L328.4 180.2 L328.9 179.9 L329.4 179.6 L329.9 179.3 L330.4 178.9 L330.9 178.5 L331.4 178.1 L331.9 177.7 L332.4 177.2 L332.9 176.7 L333.4 176.2 L333.9 175.6 L334.4 174.9 L334.9 174.1 L335.4 173.1 L335.9 172.0 L336.4 170.8 L336.9 169.4 L337.4 167.9 L337.9 166.4 L338.4 164.8 L338.9 163.3 L339.4 161.7 L339.9 160.0 L340.4 158.2 L340.9 156.3 L341.4 154.3 L341.9 152.4 L342.4 150.3 L342.9 148.2 L343.4 146.1 L343.9 143.8 L344.4 141.4 L344.9 138.7 L345.4 135.9 L345.9 132.9 L346.4 130.1 L346.9 127.4 L347.4 124.9 L347.9 122.4 L348.4 120.0 L348.9 117.5 L349.4 115.0 L349.9 112.5 L350.4 110.1 L350.9 107.8 L351.4 105.7 L351.9 103.8 L352.4 102.0 L352.9 100.4 L353.4 98.9 L353.9 97.5 L354.4 96.3 L354.9 95.2 L355.4 94.3 L355.9 93.4 L356.4 92.7 L356.9 92.0 L357.4 91.3 L357.9 90.8 L358.4 90.3 L358.9 89.9 L359.4 89.6 L359.9 89.3 L360.4 89.0 L360.9 88.7 L361.4 88.3 L361.9 87.9 L362.4 87.4 L362.9 86.8 L363.4 86.2 L363.9 85.5 L364.4 84.7 L364.9 83.7 L365.4 82.6 L365.9 81.3 L366.4 79.8 L366.9 78.1 L367.4 76.2 L367.9 73.9 L368.4 71.5 L368.9 68.5 L369.4 65.2 L369.9 62.2 L370.4 59.1 L370.9 56.2 L371.4 53.5 L371.9 51.1 L372.4 49.0 L372.9 47.3 L373.4 45.9 L373.9 44.7 L374.4 44.5 L374.9 44.9 L375.4 45.4 L375.9 46.2 L376.4 47.4 L376.9 49.4 L377.4 55.8 L377.9 64.3 L378.4 69.7 L378.9 74.7 L379.4 80.3 L379.9 86.4 L380.4 93.4 L380.9 103.0 L381.4 115.3 L381.9 126.1 L382.4 133.3 L382.9 139.2 L383.4 144.0 L383.9 148.0 L384.4 151.5 L384.9 154.6 L385.4 157.4 L385.9 159.9 L386.4 162.3 L386.9 164.6 L387.4 166.7 L387.9 168.7 L388.4 170.5 L388.9 172.1 L389.4 173.5 L389.9 174.6 L390.4 175.7 L390.9 176.6 L391.4 177.6 L391.9 178.4 L392.4 179.2 L392.9 179.9 L393.4 180.5 L393.9 181.0 L394.4 181.5 L394.9 181.9 L395.4 182.3 L395.9 182.7 L396.4 183.1 L396.9 183.4 L397.4 183.8 L397.9 184.1 L398.4 184.4 L398.9 184.7 L399.4 185.0 L399.9 185.2 L400.4 185.5 L400.9 185.7 L401.4 185.9 L401.9 186.1 L402.4 186.3 L402.9 186.4 L403.4 186.6 L403.9 186.7 L404.4 186.8 L404.9 186.9 L405.4 187.0 L405.9 187.1 L406.4 187.2 L406.9 187.3 L407.4 187.4 L407.9 187.5 L408.4 187.6 L408.9 187.7 L409.4 187.8 L409.9 187.8 L410.4 187.9 L410.9 188.0 L411.4 188.1 L411.9 188.2 L412.4 188.2 L412.9 188.3 L413.4 188.4 L413.9 188.4 L414.4 188.5 L414.9 188.6 L415.4 188.6 L415.9 188.7 L416.4 188.7 L416.9 188.8 L417.4 188.9 L417.9 188.9 L418.4 189.0 L418.9 189.0 L419.4 189.1 L419.9 189.1 L420.4 189.1 L420.9 189.2 L421.4 189.2 L421.9 189.3 L422.4 189.3 L422.9 189.4 L423.4 189.4 L423.9 189.4 L424.4 189.5 L424.9 189.5 L425.4 189.5 L425.9 189.6 L426.4 189.6 L426.9 189.6 L427.4 189.7 L427.9 189.7 L428.4 189.7 L428.9 189.7 L429.4 189.8 L429.9 189.8 L430.4 189.8 L430.9 189.8 L431.4 189.9 L431.9 189.9 L432.4 189.9 L432.9 189.9 L433.4 189.9 L433.9 190.0 L434.4 190.0 L434.9 190.0 L435.4 190.0 L435.9 190.0 L436.4 190.1 L436.9 190.1 L437.4 190.1 L437.9 190.1 L438.4 190.1 L438.9 190.2 L439.4 190.2 L439.9 190.2 L440.4 190.2 L440.9 190.2 L441.4 190.3 L441.9 190.3 L442.4 190.3 L442.9 190.3 L443.4 190.3 L443.9 190.3 L444.4 190.3 L444.9 190.4 L445.4 190.4 L445.9 190.4 L446.4 190.4 L446.9 190.4 L447.4 190.4 L447.9 190.4 L448.4 190.4 L448.9 190.4 L449.4 190.5 L449.9 190.5 L450.4 190.5 L450.9 190.5 L451.4 190.5 L451.9 190.5 L452.4 190.5 L452.9 190.5 L453.4 190.5 L453.9 190.5 L454.4 190.5 L454.9 190.5" fill="none" stroke="#000" stroke-width="1.5"/>
<g fill="#4a0a0a" stroke="#000" stroke-width="1.3"><circle cx="278.1" cy="189.8" r="2.0"/><circle cx="283.7" cy="188.9" r="2.0"/><circle cx="290.1" cy="190.7" r="2.0"/><circle cx="293.8" cy="188.3" r="2.0"/><circle cx="294.1" cy="188.8" r="2.0"/><circle cx="294.7" cy="189.5" r="2.0"/><circle cx="295.1" cy="188.1" r="2.0"/><circle cx="295.8" cy="188.9" r="2.0"/><circle cx="296.2" cy="188.9" r="2.0"/><circle cx="296.7" cy="188.5" r="2.0"/><circle cx="297.4" cy="189.1" r="2.0"/><circle cx="298.0" cy="188.6" r="2.0"/><circle cx="298.6" cy="187.2" r="2.0"/><circle cx="298.7" cy="190.2" r="2.0"/><circle cx="299.3" cy="186.4" r="2.0"/><circle cx="300.1" cy="188.9" r="2.0"/><circle cx="300.7" cy="189.1" r="2.0"/><circle cx="301.1" cy="188.2" r="2.0"/><circle cx="301.8" cy="187.7" r="2.0"/><circle cx="302.1" cy="186.7" r="2.0"/><circle cx="303.0" cy="188.1" r="2.0"/><circle cx="303.1" cy="187.0" r="2.0"/><circle cx="303.9" cy="187.2" r="2.0"/><circle cx="304.5" cy="187.4" r="2.0"/><circle cx="305.0" cy="185.7" r="2.0"/><circle cx="305.1" cy="188.6" r="2.0"/><circle cx="306.1" cy="187.7" r="2.0"/><circle cx="306.6" cy="187.5" r="2.0"/><circle cx="307.0" cy="189.8" r="2.0"/><circle cx="307.4" cy="187.0" r="2.0"/><circle cx="308.0" cy="187.9" r="2.0"/><circle cx="308.5" cy="187.0" r="2.0"/><circle cx="308.9" cy="187.8" r="2.0"/><circle cx="309.3" cy="185.5" r="2.0"/><circle cx="310.2" cy="188.2" r="2.0"/><circle cx="310.7" cy="188.4" r="2.0"/><circle cx="311.3" cy="186.1" r="2.0"/><circle cx="311.6" cy="186.7" r="2.0"/><circle cx="312.5" cy="185.8" r="2.0"/><circle cx="312.9" cy="186.9" r="2.0"/><circle cx="313.2" cy="186.2" r="2.0"/><circle cx="313.9" cy="187.2" r="2.0"/><circle cx="314.4" cy="185.5" r="2.0"/><circle cx="315.0" cy="185.2" r="2.0"/><circle cx="315.3" cy="187.1" r="2.0"/><circle cx="315.9" cy="187.2" r="2.0"/><circle cx="316.4" cy="185.8" r="2.0"/><circle cx="317.1" cy="185.3" r="2.0"/><circle cx="317.5" cy="184.9" r="2.0"/><circle cx="318.0" cy="184.5" r="2.0"/><circle cx="318.6" cy="183.4" r="2.0"/><circle cx="319.3" cy="185.1" r="2.0"/><circle cx="320.1" cy="185.2" r="2.0"/><circle cx="320.2" cy="184.6" r="2.0"/><circle cx="320.6" cy="186.0" r="2.0"/><circle cx="321.2" cy="184.8" r="2.0"/><circle cx="321.6" cy="184.0" r="2.0"/><circle cx="322.4" cy="184.3" r="2.0"/><circle cx="323.2" cy="182.2" r="2.0"/><circle cx="323.5" cy="183.6" r="2.0"/><circle cx="324.0" cy="181.9" r="2.0"/><circle cx="324.6" cy="182.2" r="2.0"/><circle cx="325.0" cy="182.9" r="2.0"/><circle cx="325.5" cy="181.2" r="2.0"/><circle cx="326.0" cy="180.2" r="2.0"/><circle cx="326.8" cy="181.1" r="2.0"/><circle cx="327.1" cy="182.2" r="2.0"/><circle cx="327.7" cy="181.2" r="2.0"/><circle cx="328.2" cy="182.4" r="2.0"/><circle cx="328.6" cy="180.5" r="2.0"/><circle cx="329.4" cy="178.8" r="2.0"/><circle cx="329.9" cy="178.9" r="2.0"/><circle cx="330.5" cy="177.4" r="2.0"/><circle cx="331.2" cy="177.6" r="2.0"/><circle cx="331.6" cy="177.8" r="2.0"/><circle cx="332.0" cy="176.2" r="2.0"/><circle cx="332.4" cy="176.2" r="2.0"/><circle cx="333.0" cy="176.6" r="2.0"/><circle cx="333.7" cy="176.1" r="2.0"/><circle cx="334.1" cy="175.8" r="2.0"/><circle cx="334.5" cy="173.6" r="2.0"/><circle cx="334.9" cy="173.5" r="2.0"/><circle cx="335.7" cy="173.0" r="2.0"/><circle cx="336.4" cy="171.0" r="2.0"/><circle cx="336.8" cy="170.2" r="2.0"/><circle cx="337.4" cy="167.5" r="2.0"/><circle cx="337.7" cy="166.8" r="2.0"/><circle cx="338.4" cy="165.7" r="2.0"/><circle cx="338.9" cy="161.9" r="2.0"/><circle cx="339.6" cy="160.7" r="2.0"/><circle cx="339.8" cy="160.3" r="2.0"/><circle cx="340.5" cy="157.2" r="2.0"/><circle cx="341.3" cy="155.6" r="2.0"/><circle cx="341.5" cy="154.2" r="2.0"/><circle cx="341.8" cy="152.0" r="2.0"/><circle cx="342.8" cy="149.6" r="2.0"/><circle cx="343.1" cy="147.0" r="2.0"/><circle cx="344.0" cy="145.1" r="2.0"/><circle cx="344.1" cy="142.4" r="2.0"/><circle cx="344.5" cy="140.5" r="2.0"/><circle cx="345.2" cy="136.8" r="2.0"/><circle cx="345.7" cy="134.0" r="2.0"/><circle cx="346.4" cy="131.2" r="2.0"/><circle cx="346.6" cy="126.3" r="2.0"/><circle cx="347.6" cy="124.5" r="2.0"/><circle cx="348.0" cy="122.2" r="2.0"/><circle cx="348.6" cy="119.4" r="2.0"/><circle cx="349.1" cy="117.2" r="2.0"/><circle cx="349.7" cy="113.5" r="2.0"/><circle cx="349.9" cy="112.5" r="2.0"/><circle cx="350.7" cy="110.6" r="2.0"/><circle cx="350.9" cy="106.4" r="2.0"/><circle cx="351.8" cy="105.0" r="2.0"/><circle cx="351.9" cy="102.2" r="2.0"/><circle cx="352.7" cy="101.6" r="2.0"/><circle cx="353.7" cy="98.9" r="2.0"/><circle cx="354.0" cy="99.2" r="2.0"/><circle cx="354.4" cy="96.1" r="2.0"/><circle cx="354.9" cy="93.6" r="2.0"/><circle cx="355.2" cy="93.7" r="2.0"/><circle cx="356.0" cy="92.3" r="2.0"/><circle cx="356.5" cy="92.6" r="2.0"/><circle cx="356.9" cy="92.4" r="2.0"/><circle cx="357.3" cy="90.3" r="2.0"/><circle cx="358.2" cy="90.4" r="2.0"/><circle cx="358.7" cy="90.0" r="2.0"/><circle cx="359.1" cy="88.9" r="2.0"/><circle cx="359.5" cy="88.9" r="2.0"/><circle cx="360.3" cy="90.4" r="2.0"/><circle cx="360.6" cy="88.3" r="2.0"/><circle cx="361.1" cy="88.4" r="2.0"/><circle cx="361.6" cy="88.3" r="2.0"/><circle cx="362.2" cy="87.2" r="2.0"/><circle cx="362.7" cy="86.5" r="2.0"/><circle cx="363.3" cy="85.1" r="2.0"/><circle cx="363.9" cy="85.0" r="2.0"/><circle cx="364.7" cy="84.6" r="2.0"/><circle cx="365.0" cy="84.1" r="2.0"/><circle cx="365.4" cy="82.8" r="2.0"/><circle cx="366.1" cy="81.8" r="2.0"/><circle cx="366.7" cy="78.2" r="2.0"/><circle cx="366.7" cy="77.9" r="2.0"/><circle cx="367.6" cy="74.5" r="2.0"/><circle cx="368.0" cy="71.2" r="2.0"/><circle cx="368.8" cy="68.9" r="2.0"/><circle cx="369.7" cy="66.4" r="2.0"/><circle cx="370.0" cy="62.6" r="2.0"/><circle cx="370.4" cy="59.7" r="2.0"/><circle cx="370.6" cy="55.6" r="2.0"/><circle cx="371.5" cy="53.0" r="2.0"/><circle cx="372.0" cy="52.2" r="2.0"/><circle cx="372.3" cy="49.2" r="2.0"/><circle cx="373.2" cy="48.1" r="2.0"/><circle cx="373.5" cy="45.2" r="2.0"/><circle cx="374.3" cy="43.9" r="2.0"/><circle cx="374.6" cy="44.9" r="2.0"/><circle cx="375.2" cy="45.4" r="2.0"/><circle cx="375.5" cy="45.5" r="2.0"/><circle cx="375.9" cy="45.8" r="2.0"/><circle cx="377.0" cy="48.9" r="2.0"/><circle cx="377.3" cy="51.7" r="2.0"/><circle cx="377.6" cy="63.0" r="2.0"/><circle cx="378.1" cy="69.0" r="2.0"/><circle cx="378.8" cy="75.0" r="2.0"/><circle cx="379.5" cy="80.1" r="2.0"/><circle cx="379.6" cy="86.2" r="2.0"/><circle cx="380.6" cy="93.7" r="2.0"/><circle cx="381.0" cy="104.7" r="2.0"/><circle cx="381.5" cy="117.0" r="2.0"/><circle cx="382.0" cy="128.8" r="2.0"/><circle cx="382.5" cy="136.8" r="2.0"/><circle cx="382.9" cy="140.6" r="2.0"/><circle cx="383.6" cy="146.7" r="2.0"/><circle cx="384.2" cy="150.6" r="2.0"/><circle cx="384.9" cy="154.5" r="2.0"/><circle cx="385.3" cy="156.2" r="2.0"/><circle cx="385.6" cy="160.0" r="2.0"/><circle cx="386.5" cy="162.8" r="2.0"/><circle cx="386.8" cy="165.0" r="2.0"/><circle cx="387.2" cy="166.8" r="2.0"/><circle cx="387.8" cy="168.8" r="2.0"/><circle cx="388.4" cy="170.7" r="2.0"/><circle cx="389.1" cy="172.5" r="2.0"/><circle cx="389.6" cy="172.8" r="2.0"/><circle cx="389.7" cy="173.5" r="2.0"/><circle cx="390.6" cy="175.9" r="2.0"/><circle cx="390.8" cy="177.4" r="2.0"/><circle cx="391.6" cy="177.9" r="2.0"/><circle cx="392.1" cy="180.1" r="2.0"/><circle cx="392.5" cy="180.1" r="2.0"/><circle cx="393.2" cy="180.1" r="2.0"/><circle cx="393.6" cy="181.6" r="2.0"/><circle cx="394.4" cy="180.6" r="2.0"/><circle cx="394.9" cy="183.6" r="2.0"/><circle cx="395.3" cy="182.6" r="2.0"/><circle cx="396.0" cy="183.8" r="2.0"/><circle cx="396.5" cy="184.8" r="2.0"/><circle cx="396.9" cy="182.5" r="2.0"/><circle cx="397.3" cy="182.8" r="2.0"/><circle cx="398.1" cy="185.4" r="2.0"/><circle cx="398.8" cy="183.2" r="2.0"/><circle cx="398.9" cy="185.0" r="2.0"/><circle cx="399.6" cy="185.5" r="2.0"/><circle cx="399.9" cy="184.6" r="2.0"/><circle cx="400.7" cy="185.6" r="2.0"/><circle cx="401.3" cy="183.2" r="2.0"/><circle cx="401.7" cy="186.7" r="2.0"/><circle cx="402.2" cy="186.3" r="2.0"/><circle cx="402.8" cy="185.6" r="2.0"/><circle cx="403.1" cy="187.9" r="2.0"/><circle cx="403.9" cy="186.9" r="2.0"/><circle cx="404.3" cy="186.1" r="2.0"/><circle cx="404.8" cy="185.5" r="2.0"/><circle cx="405.5" cy="187.1" r="2.0"/><circle cx="406.5" cy="186.2" r="2.0"/><circle cx="406.6" cy="186.7" r="2.0"/><circle cx="407.0" cy="187.1" r="2.0"/><circle cx="407.5" cy="188.7" r="2.0"/><circle cx="408.3" cy="188.9" r="2.0"/><circle cx="408.8" cy="186.6" r="2.0"/><circle cx="409.6" cy="187.1" r="2.0"/><circle cx="409.6" cy="187.4" r="2.0"/><circle cx="410.1" cy="186.0" r="2.0"/><circle cx="410.6" cy="187.4" r="2.0"/><circle cx="411.2" cy="186.8" r="2.0"/><circle cx="412.1" cy="187.9" r="2.0"/><circle cx="412.3" cy="186.5" r="2.0"/><circle cx="412.7" cy="187.3" r="2.0"/><circle cx="413.3" cy="187.1" r="2.0"/><circle cx="414.0" cy="189.2" r="2.0"/><circle cx="414.6" cy="188.0" r="2.0"/><circle cx="415.0" cy="188.9" r="2.0"/><circle cx="415.5" cy="189.0" r="2.0"/><circle cx="416.2" cy="189.3" r="2.0"/><circle cx="416.5" cy="188.4" r="2.0"/><circle cx="417.2" cy="190.3" r="2.0"/><circle cx="417.6" cy="191.9" r="2.0"/><circle cx="418.2" cy="189.8" r="2.0"/><circle cx="418.9" cy="189.2" r="2.0"/><circle cx="419.3" cy="188.2" r="2.0"/><circle cx="419.9" cy="189.3" r="2.0"/><circle cx="420.5" cy="189.7" r="2.0"/><circle cx="420.9" cy="190.0" r="2.0"/><circle cx="421.3" cy="188.9" r="2.0"/><circle cx="421.9" cy="188.6" r="2.0"/><circle cx="422.5" cy="190.0" r="2.0"/><circle cx="423.1" cy="188.1" r="2.0"/><circle cx="423.5" cy="188.6" r="2.0"/><circle cx="424.2" cy="189.2" r="2.0"/><circle cx="424.5" cy="187.1" r="2.0"/><circle cx="425.1" cy="189.7" r="2.0"/><circle cx="425.6" cy="188.7" r="2.0"/><circle cx="426.2" cy="191.0" r="2.0"/><circle cx="426.9" cy="190.3" r="2.0"/><circle cx="427.4" cy="189.2" r="2.0"/><circle cx="427.7" cy="189.2" r="2.0"/><circle cx="428.5" cy="188.6" r="2.0"/><circle cx="428.8" cy="189.3" r="2.0"/><circle cx="429.7" cy="188.6" r="2.0"/><circle cx="429.9" cy="190.5" r="2.0"/><circle cx="430.3" cy="189.1" r="2.0"/><circle cx="431.1" cy="190.1" r="2.0"/><circle cx="431.7" cy="188.5" r="2.0"/><circle cx="431.9" cy="190.7" r="2.0"/><circle cx="432.6" cy="189.4" r="2.0"/><circle cx="433.1" cy="190.1" r="2.0"/><circle cx="433.9" cy="188.3" r="2.0"/><circle cx="434.4" cy="190.3" r="2.0"/><circle cx="434.7" cy="191.3" r="2.0"/><circle cx="435.4" cy="190.4" r="2.0"/><circle cx="435.8" cy="190.8" r="2.0"/><circle cx="436.4" cy="189.4" r="2.0"/><circle cx="436.8" cy="189.3" r="2.0"/><circle cx="437.4" cy="188.1" r="2.0"/><circle cx="437.9" cy="189.1" r="2.0"/><circle cx="438.5" cy="190.1" r="2.0"/><circle cx="439.0" cy="192.1" r="2.0"/><circle cx="439.6" cy="188.8" r="2.0"/><circle cx="440.1" cy="189.6" r="2.0"/><circle cx="440.5" cy="189.5" r="2.0"/><circle cx="444.2" cy="189.8" r="2.0"/><circle cx="448.5" cy="188.6" r="2.0"/><circle cx="453.0" cy="190.5" r="2.0"/></g>
<rect x="277.4" y="14.9" width="177.50" height="176.10" fill="none" stroke="#1208f0" stroke-width="1.6"/>
<path d="M277.40 14.9 v4.2M277.40 191.0 v-4.2M289.23 14.9 v2.2M289.23 191.0 v-2.2M301.07 14.9 v2.2M301.07 191.0 v-2.2M312.90 14.9 v2.2M312.90 191.0 v-2.2M324.73 14.9 v2.2M324.73 191.0 v-2.2M336.57 14.9 v4.2M336.57 191.0 v-4.2M348.40 14.9 v2.2M348.40 191.0 v-2.2M360.23 14.9 v2.2M360.23 191.0 v-2.2M372.07 14.9 v2.2M372.07 191.0 v-2.2M383.90 14.9 v2.2M383.90 191.0 v-2.2M395.73 14.9 v4.2M395.73 191.0 v-4.2M407.57 14.9 v2.2M407.57 191.0 v-2.2M419.40 14.9 v2.2M419.40 191.0 v-2.2M431.23 14.9 v2.2M431.23 191.0 v-2.2M443.07 14.9 v2.2M443.07 191.0 v-2.2M454.90 14.9 v4.2M454.90 191.0 v-4.2M277.4 191.00 h4.2M454.9 191.00 h-4.2M277.4 176.32 h2.2M454.9 176.32 h-2.2M277.4 161.65 h4.2M454.9 161.65 h-4.2M277.4 146.97 h2.2M454.9 146.97 h-2.2M277.4 132.30 h4.2M454.9 132.30 h-4.2M277.4 117.62 h2.2M454.9 117.62 h-2.2M277.4 102.95 h4.2M454.9 102.95 h-4.2M277.4 88.28 h2.2M454.9 88.28 h-2.2M277.4 73.60 h4.2M454.9 73.60 h-4.2M277.4 58.93 h2.2M454.9 58.93 h-2.2M277.4 44.25 h4.2M454.9 44.25 h-4.2M277.4 29.58 h2.2M454.9 29.58 h-2.2M277.4 14.90 h4.2M454.9 14.90 h-4.2" stroke="#1208f0" stroke-width="1.1" fill="none"/>
<text x="143.1" y="9.7" font-family="'Liberation Sans', sans-serif" font-size="11.4" fill="#000" text-anchor="middle" font-weight="normal" >(a)</text>
<text x="366.0" y="9.7" font-family="'Liberation Sans', sans-serif" font-size="11.4" fill="#000" text-anchor="middle" font-weight="normal" >(b)</text>
<text x="143.3" y="250.2" font-family="'Liberation Sans', sans-serif" font-size="11.2" fill="#000" text-anchor="middle" font-weight="normal" >(c)</text>
<text x="56.0" y="205.8" font-family="'Liberation Serif', serif" font-size="14" fill="#000" text-anchor="middle" font-weight="normal" >1125</text>
<text x="277.4" y="203.4" font-family="'Liberation Serif', serif" font-size="14" fill="#000" text-anchor="middle" font-weight="normal" >1125</text>
<text x="114.7" y="205.8" font-family="'Liberation Serif', serif" font-size="14" fill="#000" text-anchor="middle" font-weight="normal" >1120</text>
<text x="336.6" y="203.4" font-family="'Liberation Serif', serif" font-size="14" fill="#000" text-anchor="middle" font-weight="normal" >1120</text>
<text x="173.3" y="205.8" font-family="'Liberation Serif', serif" font-size="14" fill="#000" text-anchor="middle" font-weight="normal" >1115</text>
<text x="395.7" y="203.4" font-family="'Liberation Serif', serif" font-size="14" fill="#000" text-anchor="middle" font-weight="normal" >1115</text>
<text x="232.0" y="205.8" font-family="'Liberation Serif', serif" font-size="14" fill="#000" text-anchor="middle" font-weight="normal" >1110</text>
<text x="454.9" y="203.4" font-family="'Liberation Serif', serif" font-size="14" fill="#000" text-anchor="middle" font-weight="normal" >1110</text>
<text x="144.9" y="221.8" font-family="'Liberation Serif', serif" font-size="14" fill="#000" text-anchor="middle" font-weight="normal" >Binding energy (eV)</text>
<text x="369.2" y="220.6" font-family="'Liberation Serif', serif" font-size="14" fill="#000" text-anchor="middle" font-weight="normal" >Binding energy (eV)</text>
<text x="0" y="0" font-family="'Liberation Serif', serif" font-size="14" fill="#000" text-anchor="middle" font-weight="normal" transform="translate(48.2 103.4) rotate(-90)">Intensity (Arb. Unit)</text>
<text x="0" y="0" font-family="'Liberation Serif', serif" font-size="14" fill="#000" text-anchor="middle" font-weight="normal" transform="translate(269 102.4) rotate(-90)">Intensity (Arb. Unit)</text>
<circle cx="153.5" cy="26.1" r="2.2" fill="#000"/>
<path d="M139.5 37.7H167.3" stroke="#000" stroke-width="1.4"/>
<path d="M145.8 49.4H153.3M158.7 49.4H166.2" stroke="#000" stroke-width="1.4"/>
<path d="M138.8 61H167.3" stroke="#1208f0" stroke-width="1.4" stroke-dasharray="3 2"/>
<text x="170.3" y="29.6" font-family="'Liberation Serif', serif" font-size="9.3" fill="#ff0000" text-anchor="start" font-weight="bold" >Measurement</text>
<text x="170.3" y="41.1" font-family="'Liberation Serif', serif" font-size="9.3" fill="#000" text-anchor="start" font-weight="bold" >Fitting (all)</text>
<text x="170.3" y="52.6" font-family="'Liberation Serif', serif" font-size="9.3" fill="#000" text-anchor="start" font-weight="bold" >Fitting (Ga-As)</text>
<text x="170.3" y="64.2" font-family="'Liberation Serif', serif" font-size="9.3" fill="#1208f0" text-anchor="start" font-weight="bold" >Fitting (Ga-O)</text>
<text x="161.0" y="85.0" font-family="'Liberation Serif', serif" font-size="10.6" fill="#000" text-anchor="start" font-weight="normal" >300 deg./1 min.</text>
<circle cx="293.5" cy="20.6" r="2.2" fill="#000"/>
<path d="M279.8 31.1H307.1" stroke="#000" stroke-width="1.4"/>
<path d="M285.5 42.2H294.1M298.9 42.2H306.5" stroke="#000" stroke-width="1.4"/>
<path d="M279.2 53.1H306.5" stroke="#1208f0" stroke-width="1.4" stroke-dasharray="3 2"/>
<text x="310.6" y="24.0" font-family="'Liberation Serif', serif" font-size="9.3" fill="#ff0000" text-anchor="start" font-weight="bold" >Meas.</text>
<text x="310.6" y="34.6" font-family="'Liberation Serif', serif" font-size="9.3" fill="#000" text-anchor="start" font-weight="bold" >Fitting (all)</text>
<text x="310.6" y="45.4" font-family="'Liberation Serif', serif" font-size="9.3" fill="#000" text-anchor="start" font-weight="bold" >Fitting (Ga-As)</text>
<text x="310.6" y="56.4" font-family="'Liberation Serif', serif" font-size="9.3" fill="#1208f0" text-anchor="start" font-weight="bold" >Fitting (Ga-O)</text>
<text x="287.5" y="75.2" font-family="'Liberation Serif', serif" font-size="10.8" fill="#000" text-anchor="start" font-weight="normal" >300 deg./1 h</text>
<rect x="56.8" y="255.2" width="177.30" height="177.60" fill="none" stroke="#1208f0" stroke-width="1.6"/>
<path d="M56.80 255.2 v4.5M56.80 432.8 v-4.5M67.88 255.2 v2.5M67.88 432.8 v-2.5M78.96 255.2 v4.5M78.96 432.8 v-4.5M90.04 255.2 v2.5M90.04 432.8 v-2.5M101.12 255.2 v4.5M101.12 432.8 v-4.5M112.21 255.2 v2.5M112.21 432.8 v-2.5M123.29 255.2 v4.5M123.29 432.8 v-4.5M134.37 255.2 v2.5M134.37 432.8 v-2.5M145.45 255.2 v4.5M145.45 432.8 v-4.5M156.53 255.2 v2.5M156.53 432.8 v-2.5M167.61 255.2 v4.5M167.61 432.8 v-4.5M178.69 255.2 v2.5M178.69 432.8 v-2.5M189.77 255.2 v4.5M189.77 432.8 v-4.5M200.86 255.2 v2.5M200.86 432.8 v-2.5M211.94 255.2 v4.5M211.94 432.8 v-4.5M223.02 255.2 v2.5M223.02 432.8 v-2.5M234.10 255.2 v4.5M234.10 432.8 v-4.5M56.8 432.80 h5M234.1 432.80 h-5M56.8 428.36 h3M234.1 428.36 h-3M56.8 423.92 h3M234.1 423.92 h-3M56.8 419.48 h3M234.1 419.48 h-3M56.8 415.04 h3M234.1 415.04 h-3M56.8 410.60 h5M234.1 410.60 h-5M56.8 406.16 h3M234.1 406.16 h-3M56.8 401.72 h3M234.1 401.72 h-3M56.8 397.28 h3M234.1 397.28 h-3M56.8 392.84 h3M234.1 392.84 h-3M56.8 388.40 h5M234.1 388.40 h-5M56.8 383.96 h3M234.1 383.96 h-3M56.8 379.52 h3M234.1 379.52 h-3M56.8 375.08 h3M234.1 375.08 h-3M56.8 370.64 h3M234.1 370.64 h-3M56.8 366.20 h5M234.1 366.20 h-5M56.8 361.76 h3M234.1 361.76 h-3M56.8 357.32 h3M234.1 357.32 h-3M56.8 352.88 h3M234.1 352.88 h-3M56.8 348.44 h3M234.1 348.44 h-3M56.8 344.00 h5M234.1 344.00 h-5M56.8 339.56 h3M234.1 339.56 h-3M56.8 335.12 h3M234.1 335.12 h-3M56.8 330.68 h3M234.1 330.68 h-3M56.8 326.24 h3M234.1 326.24 h-3M56.8 321.80 h5M234.1 321.80 h-5M56.8 317.36 h3M234.1 317.36 h-3M56.8 312.92 h3M234.1 312.92 h-3M56.8 308.48 h3M234.1 308.48 h-3M56.8 304.04 h3M234.1 304.04 h-3M56.8 299.60 h5M234.1 299.60 h-5M56.8 295.16 h3M234.1 295.16 h-3M56.8 290.72 h3M234.1 290.72 h-3M56.8 286.28 h3M234.1 286.28 h-3M56.8 281.84 h3M234.1 281.84 h-3M56.8 277.40 h5M234.1 277.40 h-5M56.8 272.96 h3M234.1 272.96 h-3M56.8 268.52 h3M234.1 268.52 h-3M56.8 264.08 h3M234.1 264.08 h-3M56.8 259.64 h3M234.1 259.64 h-3M56.8 255.20 h5M234.1 255.20 h-5" stroke="#1208f0" stroke-width="1.1" fill="none"/>
<text x="53.3" y="436.2" font-family="'Liberation Serif', serif" font-size="14" fill="#000" text-anchor="end" font-weight="normal" >0.0</text>
<text x="53.3" y="391.8" font-family="'Liberation Serif', serif" font-size="14" fill="#000" text-anchor="end" font-weight="normal" >0.2</text>
<text x="53.3" y="347.4" font-family="'Liberation Serif', serif" font-size="14" fill="#000" text-anchor="end" font-weight="normal" >0.4</text>
<text x="53.3" y="303.0" font-family="'Liberation Serif', serif" font-size="14" fill="#000" text-anchor="end" font-weight="normal" >0.6</text>
<text x="53.3" y="258.6" font-family="'Liberation Serif', serif" font-size="14" fill="#000" text-anchor="end" font-weight="normal" >0.8</text>
<text x="56.8" y="447.0" font-family="'Liberation Serif', serif" font-size="13.8" fill="#000" text-anchor="middle" font-weight="normal" >0</text>
<text x="79.0" y="447.0" font-family="'Liberation Serif', serif" font-size="13.8" fill="#000" text-anchor="middle" font-weight="normal" >10</text>
<text x="101.1" y="447.0" font-family="'Liberation Serif', serif" font-size="13.8" fill="#000" text-anchor="middle" font-weight="normal" >20</text>
<text x="123.3" y="447.0" font-family="'Liberation Serif', serif" font-size="13.8" fill="#000" text-anchor="middle" font-weight="normal" >30</text>
<text x="145.4" y="447.0" font-family="'Liberation Serif', serif" font-size="13.8" fill="#000" text-anchor="middle" font-weight="normal" >40</text>
<text x="167.6" y="447.0" font-family="'Liberation Serif', serif" font-size="13.8" fill="#000" text-anchor="middle" font-weight="normal" >50</text>
<text x="189.8" y="447.0" font-family="'Liberation Serif', serif" font-size="13.8" fill="#000" text-anchor="middle" font-weight="normal" >60</text>
<text x="211.9" y="447.0" font-family="'Liberation Serif', serif" font-size="13.8" fill="#000" text-anchor="middle" font-weight="normal" >70</text>
<text x="234.1" y="447.0" font-family="'Liberation Serif', serif" font-size="13.8" fill="#000" text-anchor="middle" font-weight="normal" >80</text>
<text x="146.8" y="460.5" font-family="'Liberation Serif', serif" font-size="13.8" fill="#000" text-anchor="middle" font-weight="normal" >Take-off angle (deg.)</text>
<text x="0" y="0" font-family="'Liberation Serif', serif" font-size="13.8" fill="#000" text-anchor="middle" font-weight="normal" transform="translate(11.6 345.3) rotate(-90)">Relative intensity</text>
<text x="0" y="0" font-family="'Liberation Serif', serif" font-size="13.8" fill="#000" text-anchor="middle" font-weight="normal" transform="translate(27.0 344.1) rotate(-90)">of Ga-As signal</text>
<text x="88.0" y="269.0" font-family="'Liberation Serif', serif" font-size="13.8" fill="#000" text-anchor="start" font-weight="normal" >Ga 2p3/2</text>
<text x="88.0" y="285.6" font-family="'Liberation Serif', serif" font-size="14" fill="#000" text-anchor="start" font-weight="normal" >Angle-resolved HAXPES</text>
<path d="M56.8 351.5L159.6 311M107.5 327.4H234.3M56.8 386.5L156.2 348M109.2 356.5H234.1" stroke="#000" stroke-width="1.7" fill="none"/>
<path d="M119.4 304.9V320.5M114.8 313.4L119.4 320.8L123.9 313.4" stroke="#000" stroke-width="1.5" fill="none"/>
<path d="M133.9 377.6V361.2M129.8 368.9L133.9 360.9L138.2 368.9" stroke="#000" stroke-width="1.5" fill="none"/>
<g fill="#ff0000"><circle cx="65.5" cy="346.5" r="3"/><circle cx="78.9" cy="344.6" r="3"/><circle cx="92.2" cy="334.5" r="3"/><circle cx="105.7" cy="334.1" r="3"/><circle cx="118.7" cy="326.2" r="3"/><circle cx="132.1" cy="322.0" r="3"/><circle cx="145.8" cy="334.0" r="3"/><circle cx="158.8" cy="318.9" r="3"/><circle cx="172.1" cy="327.6" r="3"/><circle cx="185.4" cy="334.4" r="3"/><circle cx="198.8" cy="323.0" r="3"/><circle cx="211.9" cy="327.6" r="3"/><circle cx="225.3" cy="328.8" r="3"/></g>
<g fill="#0000ff"><rect x="62.3" y="378.0" width="6.4" height="6.4"/><rect x="75.7" y="370.9" width="6.4" height="6.4"/><rect x="89.0" y="372.4" width="6.4" height="6.4"/><rect x="102.5" y="362.9" width="6.4" height="6.4"/><rect x="115.5" y="358.5" width="6.4" height="6.4"/><rect x="128.9" y="354.1" width="6.4" height="6.4"/><rect x="142.6" y="342.9" width="6.4" height="6.4"/><rect x="155.6" y="357.0" width="6.4" height="6.4"/><rect x="168.9" y="347.7" width="6.4" height="6.4"/><rect x="182.2" y="352.8" width="6.4" height="6.4"/><rect x="195.6" y="349.4" width="6.4" height="6.4"/><rect x="208.7" y="360.5" width="6.4" height="6.4"/><rect x="222.1" y="350.8" width="6.4" height="6.4"/></g>
<text x="78.6" y="313.2" font-family="'Liberation Serif', serif" font-size="13.8" fill="#000">θ<tspan font-size="10" dy="3">0</tspan><tspan dy="-3">=28°</tspan></text>
<text x="139.5" y="379.6" font-family="'Liberation Serif', serif" font-size="13.8" fill="#000">θ<tspan font-size="10" dy="3">0</tspan><tspan dy="-3">=35°</tspan></text>
<circle cx="71.5" cy="403.1" r="3" fill="#ff0000"/>
<rect x="68.8" y="414.7" width="6.4" height="6.4" fill="#0000ff"/>
<text x="88.4" y="408.5" font-family="'Liberation Serif', serif" font-size="14" fill="#ff0000" text-anchor="start" font-weight="normal" >1-hour annealed junction</text>
<text x="88.4" y="423.8" font-family="'Liberation Serif', serif" font-size="14" fill="#0000ff" text-anchor="start" font-weight="normal" >1-min. annealed junction</text>
</svg>
</body></html>
